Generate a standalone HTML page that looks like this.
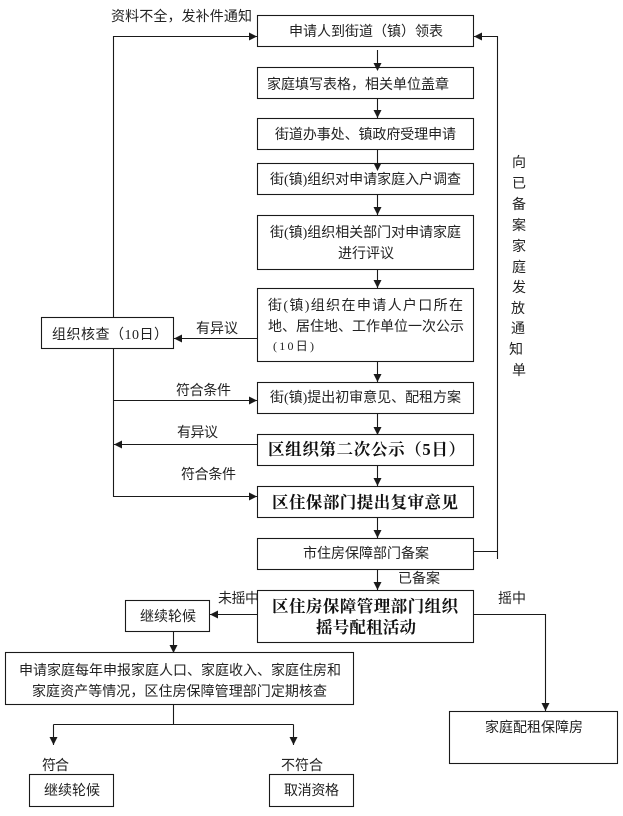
<!DOCTYPE html>
<html lang="zh-CN">
<head>
<meta charset="utf-8">
<style>
html,body{margin:0;padding:0;background:#fff}
svg{display:block;filter:blur(.3px)}
text{font-family:"Liberation Serif","Noto Sans CJK SC",sans-serif;font-size:14px;fill:#222}
.b{font-family:"Liberation Serif","Noto Serif CJK SC",serif;font-weight:700;fill:#111}
rect{fill:#fff;stroke:#1a1a1a;stroke-width:1.1}
.l{fill:none;stroke:#1a1a1a;stroke-width:1.1}
.a{fill:#1a1a1a;stroke:none}
</style>
</head>
<body>
<svg width="623" height="816" viewBox="0 0 623 816" xmlns="http://www.w3.org/2000/svg">
<defs>
<path id="d" class="a" d="M-4 -8H4L0 0Z"/>
<path id="r" class="a" d="M-8 -4V4L0 0Z"/>
<path id="w" class="a" d="M8 -4V4L0 0Z"/>
</defs>

<rect x="257.5" y="15.5" width="216" height="31"/>
<rect x="257.5" y="67.5" width="216" height="31"/>
<rect x="257.5" y="118.5" width="216" height="31"/>
<rect x="257.5" y="163.5" width="216" height="31"/>
<rect x="257.5" y="215.5" width="216" height="54"/>
<rect x="257.5" y="288.5" width="216" height="73"/>
<rect x="257.5" y="382.5" width="216" height="31"/>
<rect x="257.5" y="434.5" width="216" height="31"/>
<rect x="257.5" y="486.5" width="216" height="31"/>
<rect x="257.5" y="538.5" width="216" height="31"/>
<rect x="257.5" y="590.5" width="216" height="52"/>
<rect x="41.5" y="317.5" width="132" height="31"/>
<rect x="125.5" y="600.5" width="84" height="31"/>
<rect x="5.5" y="652.5" width="348" height="52"/>
<rect x="29.5" y="774.5" width="84" height="32"/>
<rect x="269.5" y="774.5" width="84" height="32"/>
<rect x="449.5" y="711.5" width="168" height="52"/>

<path class="l" d="M377.5 50V67M377.5 98V118M377.5 150V163M377.5 194V215M377.5 269V288M377.5 361V382M377.5 413V434M377.5 465V486M377.5 517V538M377.5 569V590"/>
<use href="#d" x="377.5" y="71"/><use href="#d" x="377.5" y="118"/><use href="#d" x="377.5" y="171"/><use href="#d" x="377.5" y="215"/><use href="#d" x="377.5" y="288"/><use href="#d" x="377.5" y="382"/><use href="#d" x="377.5" y="435"/><use href="#d" x="377.5" y="486"/><use href="#d" x="377.5" y="538"/><use href="#d" x="377.5" y="590"/>

<path class="l" d="M257 36.5H113.5V317M113.5 348V496.5H257M113.5 400.5H257M257 444.5H114M257 338.5H174"/>
<use href="#r" x="257" y="36.5"/><use href="#r" x="257" y="400.5"/><use href="#r" x="257" y="496.5"/>
<use href="#w" x="114" y="444.5"/><use href="#w" x="174" y="338.5"/>

<path class="l" d="M474 36.5H497.5V559M474 551.5H497.5"/>
<use href="#w" x="474" y="36.5"/>

<path class="l" d="M257 614.5H210M473 614.5H545.5V711M173.5 631V652M173.5 704V725M53.5 724.5H293.5M53.5 724.5V745M293.5 724.5V745"/>
<use href="#w" x="210" y="614.5"/><use href="#d" x="545.5" y="711"/><use href="#d" x="173.5" y="653"/><use href="#d" x="53.5" y="745"/><use href="#d" x="293.5" y="745"/>

<text x="111" y="21" textLength="141">资料不全&#xFF0C;发补件通知</text>
<text x="289" y="36" textLength="154">申请人到街道&#xFF08;镇&#xFF09;领表</text>
<text x="267" y="89" textLength="182">家庭填写表格&#xFF0C;相关单位盖章</text>
<text x="275" y="139" textLength="181">街道办事处、镇政府受理申请</text>
<text x="270" y="184" textLength="191">街(镇)组织对申请家庭入户调查</text>
<text x="270" y="237" textLength="191">街(镇)组织相关部门对申请家庭</text>
<text x="338" y="258" textLength="56">进行评议</text>
<text x="268" y="310" textLength="195">街(镇)组织在申请人户口所在</text>
<text x="268" y="331" textLength="196">地、居住地、工作单位一次公示</text>
<text x="273" y="350" textLength="41" style="font-size:12px">(10日)</text>
<text x="270" y="402" textLength="191">街(镇)提出初审意见、配租方案</text>
<text class="b" x="268" y="455" textLength="197" style="font-size:16.5px">区组织第二次公示&#xFF08;5日&#xFF09;</text>
<text class="b" x="272" y="508" textLength="186" style="font-size:16.5px">区住保部门提出复审意见</text>
<text x="303" y="558" textLength="126">市住房保障部门备案</text>
<text class="b" x="272" y="612" textLength="186" style="font-size:16.5px">区住房保障管理部门组织</text>
<text class="b" x="316" y="633" textLength="100" style="font-size:16.5px">摇号配租活动</text>
<text x="398" y="583" textLength="42">已备案</text>
<text x="498" y="603" textLength="28">摇中</text>
<text x="218" y="603" textLength="41">未摇中</text>
<text x="140" y="621" textLength="56">继续轮候</text>
<text x="19" y="675" textLength="322">申请家庭每年申报家庭人口、家庭收入、家庭住房和</text>
<text x="32" y="696" textLength="295">家庭资产等情况&#xFF0C;区住房保障管理部门定期核查</text>
<text x="42" y="770" textLength="27">符合</text>
<text x="281" y="770" textLength="42">不符合</text>
<text x="44" y="795" textLength="56">继续轮候</text>
<text x="284" y="795" textLength="55">取消资格</text>
<text x="485" y="732" textLength="98">家庭配租保障房</text>
<text x="52" y="339" textLength="116">组织核查&#xFF08;10日&#xFF09;</text>
<text x="196" y="333" textLength="42">有异议</text>
<text x="176" y="395" textLength="55">符合条件</text>
<text x="177" y="437" textLength="41">有异议</text>
<text x="181" y="479" textLength="55">符合条件</text>

<text x="512" y="167">向</text>
<text x="512" y="188">已</text>
<text x="512" y="209">备</text>
<text x="512" y="230">案</text>
<text x="512" y="251">家</text>
<text x="512" y="272">庭</text>
<text x="512" y="292">发</text>
<text x="511" y="313">放</text>
<text x="511" y="333">通</text>
<text x="509" y="354">知</text>
<text x="512" y="375">单</text>
</svg>
</body>
</html>
